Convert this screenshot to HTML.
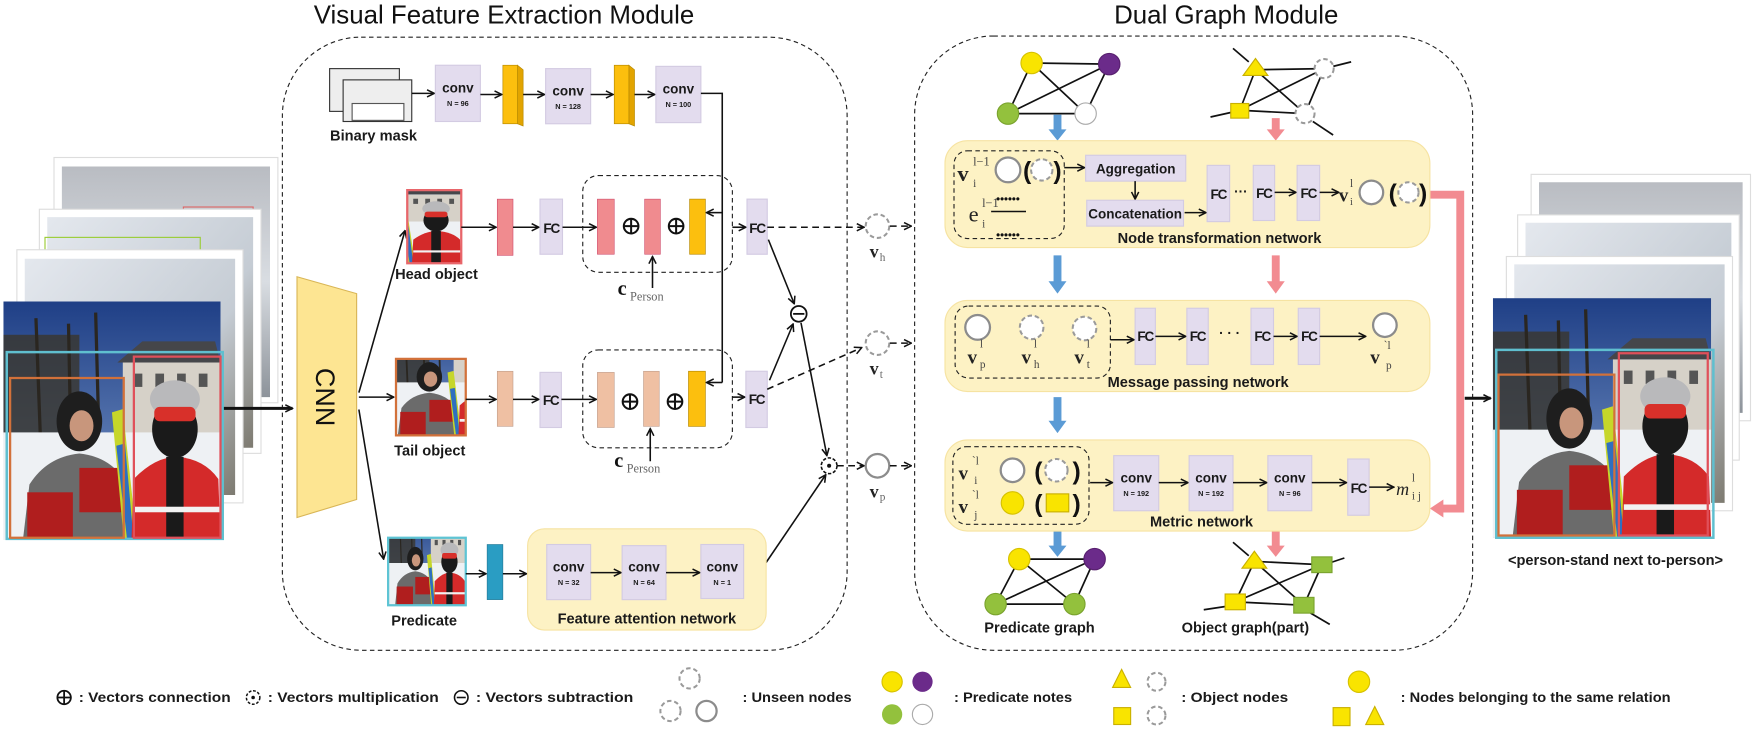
<!DOCTYPE html>
<html><head><meta charset="utf-8"><style>
html,body{margin:0;padding:0;background:#fff;}
svg{display:block;}
text{font-family:"Liberation Sans",sans-serif;}
.b{font-weight:bold;fill:#1a1a1a;}
.m{font-family:"Liberation Serif",serif;}
.lv{fill:#e3dcee;stroke:#d3cbe2;stroke-width:1;}
.ln{stroke:#111;stroke-width:1.4;fill:none;}
.ar{stroke:#111;stroke-width:1.4;fill:none;marker-end:url(#a);}
.da{stroke:#111;stroke-width:1.4;fill:none;stroke-dasharray:6,4;marker-end:url(#a);}
.box{fill:none;stroke:#222;stroke-width:1;stroke-dasharray:4,3;}
.nb{fill:#fdf2c4;stroke:#f6e3a2;stroke-width:1;}
.dc{fill:#fff;stroke:#9a9a9a;stroke-width:1.8;stroke-dasharray:4,2.5;}
.sc{fill:#fff;stroke:#8c8c8c;stroke-width:2;}
.ed{stroke:#111;stroke-width:1.5;}
</style></head><body>
<svg width="1755" height="729" viewBox="0 0 1560 648" preserveAspectRatio="none" xmlns="http://www.w3.org/2000/svg">
<defs>
<marker id="a" viewBox="0 0 10 10" refX="9" refY="5" markerWidth="8" markerHeight="8" orient="auto" markerUnits="userSpaceOnUse"><path d="M1,1 L9,5 L1,9" fill="none" stroke="#111" stroke-width="1.7"/></marker>
<linearGradient id="sky" x1="0" y1="0" x2="0" y2="1"><stop offset="0" stop-color="#1f3f86"/><stop offset="1" stop-color="#7f9dcc"/></linearGradient>
<linearGradient id="blur1" x1="0" y1="0" x2="0" y2="1"><stop offset="0" stop-color="#b9bcc2"/><stop offset="0.5" stop-color="#d9dde2"/><stop offset="1" stop-color="#8d939a"/></linearGradient>
<linearGradient id="blur2" x1="0" y1="0" x2="1" y2="1"><stop offset="0" stop-color="#e4e8ee"/><stop offset="0.6" stop-color="#c5ccd4"/><stop offset="1" stop-color="#7d7a70"/></linearGradient>
<g id="scene">
<rect width="200" height="215" fill="url(#sky)"/>
<rect x="0" y="30" width="70" height="90" fill="#3a362c" opacity="0.8"/>
<path d="M60,20 L62,120 M85,10 L88,120 M30,15 L34,120" stroke="#2a2620" stroke-width="3"/>
<polygon points="105,55 128,36 195,36 200,55" fill="#45464a"/>
<rect x="110" y="55" width="90" height="65" fill="#d6d1c8"/>
<rect x="120" y="65" width="8" height="12" fill="#555"/><rect x="140" y="65" width="8" height="12" fill="#555"/><rect x="160" y="65" width="8" height="12" fill="#555"/><rect x="180" y="65" width="8" height="12" fill="#555"/>
<rect x="0" y="118" width="200" height="97" fill="#eef1f4"/>
<path d="M18,215 L24,165 Q40,140 70,137 Q100,140 114,165 L118,215 Z" fill="#6b6b6b"/>
<rect x="22" y="172" width="42" height="43" fill="#b01e1e"/><rect x="70" y="150" width="40" height="40" fill="#b01e1e"/>
<ellipse cx="70" cy="108" rx="21" ry="27" fill="#1e1e1e"/><ellipse cx="72" cy="112" rx="11" ry="14" fill="#c8967c"/>
<polygon points="100,100 110,97 123,215 111,215" fill="#c6d62a"/><polygon points="104,130 112,128 120,215 114,215" fill="#2f6fc0"/>
<path d="M118,215 L120,160 Q140,140 160,140 Q185,142 198,160 L200,215 Z" fill="#d42a2a"/>
<rect x="150" y="140" width="16" height="75" fill="#1a1a1a"/><rect x="120" y="185" width="80" height="5" fill="#f2f2f2"/>
<ellipse cx="158" cy="115" rx="21" ry="26" fill="#1a1a1a"/><ellipse cx="158" cy="88" rx="23" ry="17" fill="#b9b9bb"/>
<rect x="139" y="95" width="38" height="13" rx="5" fill="#d8302a"/>
</g>
</defs>

<!-- titles -->
<text x="448" y="21" font-size="23" text-anchor="middle" fill="#111">Visual Feature Extraction Module</text>
<text x="1090" y="21" font-size="23" text-anchor="middle" fill="#111">Dual Graph Module</text>

<!-- containers -->
<rect x="251" y="33" width="502" height="545" rx="70" class="box"/>
<rect x="813" y="32" width="496" height="546" rx="70" class="box"/>

<!-- left photo stack -->
<rect x="48" y="140" width="199" height="218" fill="#fff" stroke="#ddd"/>
<rect x="55" y="148" width="185" height="205" fill="url(#blur1)"/>
<rect x="163" y="184" width="62" height="30" fill="none" stroke="#d66" stroke-width="1"/>
<rect x="35" y="186" width="197" height="217" fill="#fff" stroke="#ddd"/>
<rect x="42" y="193" width="183" height="205" fill="url(#blur2)"/>
<rect x="40" y="211" width="138" height="30" fill="none" stroke="#9c3" stroke-width="1"/>
<rect x="15" y="222" width="201" height="225" fill="#fff" stroke="#ddd"/>
<rect x="22" y="230" width="187" height="210" fill="url(#blur2)"/>
<svg x="3" y="268" width="193" height="212" viewBox="0 0 200 215" preserveAspectRatio="none"><use href="#scene"/></svg>
<rect x="6" y="313" width="192" height="166" fill="none" stroke="#5fbfcf" stroke-width="2.2"/>
<rect x="9" y="336" width="101" height="142" fill="none" stroke="#d2713a" stroke-width="2"/>
<rect x="119" y="317" width="77" height="161" fill="none" stroke="#e0505a" stroke-width="2"/>
<line x1="199" y1="363" x2="260" y2="363" stroke="#111" stroke-width="2.6" marker-end="url(#a)"/>

<!-- CNN -->
<polygon points="264,246 317,261 317,444 264,460" fill="#fde592" stroke="#d9b656" stroke-width="1"/>
<text x="0" y="0" font-size="24" fill="#111" transform="translate(281,353) rotate(90)" text-anchor="middle">CNN</text>
<line x1="319" y1="349" x2="360" y2="205" class="ar"/>
<line x1="319" y1="353" x2="350" y2="353" class="ar"/>
<line x1="319" y1="364" x2="341" y2="497" class="ar"/>

<!-- binary mask row -->
<rect x="293" y="61" width="62" height="38" fill="#eee" stroke="#333"/>
<rect x="305" y="71" width="61" height="37" fill="#eee" stroke="#333"/>
<rect x="313" y="92" width="46" height="15" fill="#fff" stroke="#555"/>
<text x="332" y="125" font-size="13" class="b" text-anchor="middle">Binary mask</text>
<line x1="366" y1="83" x2="386" y2="83" class="ar"/>
<rect x="387" y="58" width="40" height="50" class="lv"/>
<text x="407" y="82" font-size="12" class="b" text-anchor="middle">conv</text><text x="407" y="94" font-size="6.5" class="b" text-anchor="middle">N = 96</text>
<line x1="427" y1="84" x2="446" y2="84" class="ar"/>
<polygon points="460,58 465,62 465,112 460,110" fill="#e2a400" stroke="#b88a00" stroke-width="0.6"/>
<rect x="447" y="58" width="13" height="52" fill="#fcbf0e" stroke="#b88a00" stroke-width="0.6"/>
<line x1="465" y1="84" x2="484" y2="84" class="ar"/>
<rect x="485" y="61" width="40" height="49" class="lv"/>
<text x="505" y="85" font-size="12" class="b" text-anchor="middle">conv</text><text x="505" y="97" font-size="6.5" class="b" text-anchor="middle">N = 128</text>
<line x1="525" y1="84" x2="545" y2="84" class="ar"/>
<polygon points="559,58 564,62 564,112 559,110" fill="#e2a400" stroke="#b88a00" stroke-width="0.6"/>
<rect x="546" y="58" width="13" height="52" fill="#fcbf0e" stroke="#b88a00" stroke-width="0.6"/>
<line x1="564" y1="84" x2="582" y2="84" class="ar"/>
<rect x="583" y="59" width="40" height="50" class="lv"/>
<text x="603" y="83" font-size="12" class="b" text-anchor="middle">conv</text><text x="603" y="95" font-size="6.5" class="b" text-anchor="middle">N = 100</text>
<polyline points="623,83 642,83 642,340" class="ln"/>
<line x1="642" y1="189" x2="628" y2="189" class="ar"/>
<line x1="642" y1="340" x2="628" y2="340" class="ar"/>

<!-- head row -->
<svg x="362" y="169" width="48" height="65" viewBox="110 45 90 170" preserveAspectRatio="none"><use href="#scene"/></svg>
<rect x="362" y="169" width="48" height="65" fill="none" stroke="#e8656a" stroke-width="2"/>
<text x="388" y="248" font-size="13" class="b" text-anchor="middle">Head object</text>
<line x1="410" y1="202" x2="441" y2="202" class="ar"/>
<rect x="442" y="177" width="14" height="50" fill="#f08b8f" stroke="#c46" stroke-width="0.5"/>
<line x1="456" y1="202" x2="479" y2="202" class="ar"/>
<rect x="480" y="177" width="20" height="49" class="lv"/><text x="490" y="207" font-size="12" class="b" text-anchor="middle" letter-spacing="-1">FC</text>
<line x1="500" y1="202" x2="530" y2="202" class="ar"/>
<rect x="518" y="156" width="133" height="86" rx="14" class="box"/>
<rect x="531" y="177" width="15" height="49" fill="#f08b8f" stroke="#c46" stroke-width="0.5"/>
<circle cx="561" cy="201" r="6.5" fill="none" stroke="#111" stroke-width="1.8"/><path d="M554.5,201 H567.5 M561,194.5 V207.5" stroke="#111" stroke-width="1.8"/>
<rect x="573" y="177" width="14" height="49" fill="#f08b8f" stroke="#c46" stroke-width="0.5"/>
<circle cx="601" cy="201" r="6.5" fill="none" stroke="#111" stroke-width="1.8"/><path d="M594.5,201 H607.5 M601,194.5 V207.5" stroke="#111" stroke-width="1.8"/>
<rect x="613" y="177" width="14" height="49" fill="#fcbf0e" stroke="#b88a00" stroke-width="0.6"/>
<line x1="580" y1="256" x2="580" y2="228" class="ar"/>
<text x="549" y="262" font-size="18" class="m" font-weight="bold" fill="#111">c</text><text x="560" y="267" font-size="11" class="m" fill="#666">Person</text>
<line x1="651" y1="202" x2="663" y2="202" class="ar"/>
<rect x="664" y="177" width="18" height="49" class="lv"/><text x="673" y="207" font-size="12" class="b" text-anchor="middle" letter-spacing="-1">FC</text>
<line x1="682" y1="202" x2="768" y2="202" class="da"/>
<circle cx="780" cy="201" r="10.5" class="dc"/>
<text x="773" y="229" font-size="16" class="m" font-weight="bold" fill="#222">v</text><text x="782" y="232" font-size="10" class="m" fill="#666">h</text>
<line x1="791" y1="201" x2="810" y2="201" class="da"/>

<!-- tail row -->
<svg x="352" y="319" width="62" height="68" viewBox="15 75 115 140" preserveAspectRatio="none"><use href="#scene"/></svg>
<rect x="352" y="319" width="62" height="68" fill="none" stroke="#d2713a" stroke-width="2"/>
<text x="382" y="405" font-size="13" class="b" text-anchor="middle">Tail object</text>
<line x1="414" y1="355" x2="441" y2="355" class="ar"/>
<rect x="442" y="330" width="14" height="49" fill="#efc0a3" stroke="#b98" stroke-width="0.5"/>
<line x1="456" y1="355" x2="479" y2="355" class="ar"/>
<rect x="480" y="331" width="19" height="49" class="lv"/><text x="489.5" y="360" font-size="12" class="b" text-anchor="middle" letter-spacing="-1">FC</text>
<line x1="499" y1="355" x2="530" y2="355" class="ar"/>
<rect x="518" y="311" width="133" height="87" rx="14" class="box"/>
<rect x="531" y="331" width="15" height="49" fill="#efc0a3" stroke="#b98" stroke-width="0.5"/>
<circle cx="560" cy="357" r="6.5" fill="none" stroke="#111" stroke-width="1.8"/><path d="M553.5,357 H566.5 M560,350.5 V363.5" stroke="#111" stroke-width="1.8"/>
<rect x="572" y="330" width="14" height="49" fill="#efc0a3" stroke="#b98" stroke-width="0.5"/>
<circle cx="600" cy="357" r="6.5" fill="none" stroke="#111" stroke-width="1.8"/><path d="M593.5,357 H606.5 M600,350.5 V363.5" stroke="#111" stroke-width="1.8"/>
<rect x="612" y="330" width="15" height="49" fill="#fcbf0e" stroke="#b88a00" stroke-width="0.6"/>
<line x1="578" y1="410" x2="578" y2="381" class="ar"/>
<text x="546" y="415" font-size="18" class="m" font-weight="bold" fill="#111">c</text><text x="557" y="420" font-size="11" class="m" fill="#666">Person</text>
<line x1="651" y1="353" x2="662" y2="353" class="ar"/>
<rect x="663" y="330" width="19" height="50" class="lv"/><text x="672.5" y="359" font-size="12" class="b" text-anchor="middle" letter-spacing="-1">FC</text>
<line x1="682" y1="346" x2="766" y2="309" class="da"/>
<circle cx="780" cy="305" r="10.5" class="dc"/>
<text x="773" y="333" font-size="16" class="m" font-weight="bold" fill="#222">v</text><text x="782" y="336" font-size="10" class="m" fill="#666">t</text>
<line x1="791" y1="305" x2="810" y2="305" class="da"/>

<!-- subtraction / multiplication -->
<line x1="683" y1="213" x2="706" y2="270" class="ar"/>
<line x1="684" y1="338" x2="705" y2="288" class="ar"/>
<circle cx="710" cy="279" r="7" fill="#fff" stroke="#111" stroke-width="1.6"/><line x1="705" y1="279" x2="715" y2="279" stroke="#111" stroke-width="1.6"/>
<line x1="712" y1="287" x2="735" y2="405" class="ar"/>
<line x1="681" y1="500" x2="734" y2="422" class="ar"/>
<circle cx="737" cy="414" r="7" fill="#fff" stroke="#111" stroke-width="1.4" stroke-dasharray="3,1.5"/><circle cx="737" cy="414" r="1.8" fill="#111"/>
<line x1="744" y1="414" x2="768" y2="414" class="da"/>
<circle cx="780" cy="414" r="10.5" class="sc"/>
<text x="773" y="442" font-size="16" class="m" font-weight="bold" fill="#222">v</text><text x="782" y="445" font-size="10" class="m" fill="#666">p</text>
<line x1="791" y1="414" x2="810" y2="414" class="da"/>

<!-- predicate row -->
<svg x="345" y="478" width="69" height="60" viewBox="0 60 200 155" preserveAspectRatio="none"><use href="#scene"/></svg>
<rect x="345" y="478" width="69" height="60" fill="none" stroke="#5ec4d4" stroke-width="2"/>
<text x="377" y="556" font-size="13" class="b" text-anchor="middle">Predicate</text>
<line x1="414" y1="510" x2="432" y2="510" class="ar"/>
<rect x="433" y="484" width="14" height="49" fill="#2a9dc3" stroke="#1a6f8c" stroke-width="0.5"/>
<line x1="447" y1="510" x2="468" y2="510" class="ar"/>
<rect x="469" y="470" width="212" height="90" rx="15" class="nb"/>
<rect x="486" y="484" width="39" height="49" class="lv"/><text x="505.5" y="508" font-size="12" class="b" text-anchor="middle">conv</text><text x="505.5" y="520" font-size="6.5" class="b" text-anchor="middle">N = 32</text>
<line x1="525" y1="509" x2="552" y2="509" class="ar"/>
<rect x="553" y="485" width="39" height="48" class="lv"/><text x="572.5" y="508" font-size="12" class="b" text-anchor="middle">conv</text><text x="572.5" y="520" font-size="6.5" class="b" text-anchor="middle">N = 64</text>
<line x1="592" y1="509" x2="622" y2="509" class="ar"/>
<rect x="623" y="484" width="38" height="48" class="lv"/><text x="642" y="508" font-size="12" class="b" text-anchor="middle">conv</text><text x="642" y="520" font-size="6.5" class="b" text-anchor="middle">N = 1</text>
<text x="575" y="554" font-size="13" class="b" text-anchor="middle">Feature attention network</text>

<!-- top graphs -->
<g class="ed"><line x1="917" y1="56" x2="986" y2="57"/><line x1="917" y1="56" x2="896" y2="101"/><line x1="917" y1="56" x2="965" y2="101"/><line x1="986" y1="57" x2="896" y2="101"/><line x1="986" y1="57" x2="965" y2="101"/><line x1="896" y1="101" x2="965" y2="101"/></g>
<circle cx="917" cy="56" r="9.5" fill="#f9e400" stroke="#d6c100"/>
<circle cx="986" cy="57" r="9.5" fill="#6b2b8a" stroke="#58206f"/>
<circle cx="896" cy="101" r="9.5" fill="#93c13d" stroke="#7aa32e"/>
<circle cx="965" cy="101" r="9.5" fill="#fff" stroke="#aaa"/>
<g class="ed"><line x1="1116" y1="62" x2="1177" y2="61"/><line x1="1116" y1="62" x2="1102" y2="98"/><line x1="1116" y1="62" x2="1160" y2="101"/><line x1="1102" y1="98" x2="1177" y2="61"/><line x1="1102" y1="98" x2="1160" y2="101"/><line x1="1177" y1="61" x2="1160" y2="101"/><line x1="1096" y1="43" x2="1110" y2="55"/><line x1="1185" y1="59" x2="1201" y2="55"/><line x1="1076" y1="104" x2="1094" y2="100"/><line x1="1167" y1="108" x2="1185" y2="120"/></g>
<polygon points="1116,52 1127,67 1105,67" fill="#f9e400" stroke="#c9b000"/>
<circle cx="1177" cy="61" r="8.5" class="dc"/>
<rect x="1094" y="92" width="16" height="13" fill="#f9e400" stroke="#c9b000"/>
<circle cx="1160" cy="101" r="8.5" class="dc"/>

<!-- colored arrows -->
<g fill="#5b9bd5">
<polygon points="936.5,102 943.5,102 943.5,115 948,115 940,125 932,115 936.5,115"/>
<polygon points="936.5,227 943.5,227 943.5,250 948,250 940,261 932,250 936.5,250"/>
<polygon points="936.5,353 943.5,353 943.5,374 948,374 940,385 932,374 936.5,374"/>
<polygon points="936.5,472 943.5,472 943.5,485 948,485 940,495 932,485 936.5,485"/>
</g>
<g fill="#f28b91">
<polygon points="1130.5,105 1137.5,105 1137.5,115 1142,115 1134,125 1126,115 1130.5,115"/>
<polygon points="1130.5,227 1137.5,227 1137.5,250 1142,250 1134,261 1126,250 1130.5,250"/>
<polygon points="1130.5,472 1137.5,472 1137.5,485 1142,485 1134,495 1126,485 1130.5,485"/>
</g>
<polyline points="1271,173 1298,173 1298,452 1282,452" fill="none" stroke="#f28b91" stroke-width="7"/>
<polygon points="1283,444 1283,460 1271,452" fill="#f28b91"/>

<!-- Node transformation network -->
<rect x="840" y="125" width="431" height="95" rx="20" class="nb"/>
<rect x="848" y="134" width="98" height="78" rx="12" class="box"/>
<text x="851" y="161" font-size="20" class="m" font-weight="bold" fill="#222">v</text><text x="865" y="147" font-size="11" class="m" fill="#444">l−1</text><text x="865" y="166" font-size="10" class="m" fill="#444">i</text>
<circle cx="896" cy="151" r="11" class="sc"/>
<text x="913" y="159" font-size="22" font-weight="bold" fill="#111" text-anchor="middle">(</text><text x="940" y="159" font-size="22" font-weight="bold" fill="#111" text-anchor="middle">)</text>
<circle cx="926" cy="151" r="9.5" class="dc"/>
<text x="861" y="197" font-size="20" class="m" fill="#222">e</text><text x="873" y="184" font-size="11" class="m" fill="#444">l−1</text><text x="873" y="202" font-size="10" class="m" fill="#444">i</text>
<text x="896" y="180" font-size="10" font-weight="bold" text-anchor="middle" fill="#111">••••••</text>
<line x1="881" y1="188" x2="912" y2="188" stroke="#111" stroke-width="1.3"/>
<text x="896" y="212" font-size="10" font-weight="bold" text-anchor="middle" fill="#111">••••••</text>
<line x1="946" y1="149" x2="964" y2="149" class="ar"/>
<rect x="965" y="138" width="89" height="23" class="lv"/><text x="1009.5" y="154" font-size="12" class="b" text-anchor="middle">Aggregation</text>
<line x1="1009" y1="161" x2="1009" y2="177" class="ar"/>
<rect x="966" y="178" width="86" height="23" class="lv"/><text x="1009" y="194" font-size="12" class="b" text-anchor="middle">Concatenation</text>
<line x1="1053" y1="189" x2="1072" y2="189" class="ar"/>
<rect x="1073" y="147" width="20" height="50" class="lv"/><text x="1083" y="177" font-size="12" class="b" text-anchor="middle" letter-spacing="-1">FC</text>
<text x="1103" y="174" font-size="12" class="b" text-anchor="middle">···</text>
<rect x="1114" y="147" width="19" height="49" class="lv"/><text x="1123.5" y="176" font-size="12" class="b" text-anchor="middle" letter-spacing="-1">FC</text>
<line x1="1133" y1="171" x2="1152" y2="171" class="ar"/>
<rect x="1153" y="147" width="20" height="49" class="lv"/><text x="1163" y="176" font-size="12" class="b" text-anchor="middle" letter-spacing="-1">FC</text>
<line x1="1173" y1="171" x2="1190" y2="171" class="ar"/>
<text x="1190" y="179" font-size="17" class="m" font-weight="bold" fill="#222">v</text><text x="1200" y="166" font-size="10" class="m" fill="#444">l</text><text x="1200" y="182" font-size="9" class="m" fill="#444">i</text>
<circle cx="1219" cy="171" r="10.5" class="sc"/>
<text x="1238" y="179" font-size="22" font-weight="bold" fill="#111" text-anchor="middle">(</text><text x="1265" y="179" font-size="22" font-weight="bold" fill="#111" text-anchor="middle">)</text>
<circle cx="1252" cy="171" r="9" class="dc"/>
<text x="1084" y="216" font-size="13" class="b" text-anchor="middle">Node transformation network</text>

<!-- Message passing network -->
<rect x="840" y="267" width="431" height="81" rx="20" class="nb"/>
<rect x="849" y="272" width="138" height="64" rx="12" class="box"/>
<circle cx="869" cy="291" r="11" class="sc"/><circle cx="917" cy="291" r="10.5" class="dc"/><circle cx="964" cy="292" r="10.5" class="dc"/>
<text x="860" y="323" font-size="17" class="m" font-weight="bold" fill="#222">v</text><text x="871" y="309" font-size="10" class="m" fill="#444">l</text><text x="871" y="327" font-size="10" class="m" fill="#444">p</text>
<text x="908" y="323" font-size="17" class="m" font-weight="bold" fill="#222">v</text><text x="919" y="309" font-size="10" class="m" fill="#444">l</text><text x="919" y="327" font-size="10" class="m" fill="#444">h</text>
<text x="955" y="323" font-size="17" class="m" font-weight="bold" fill="#222">v</text><text x="966" y="309" font-size="10" class="m" fill="#444">l</text><text x="966" y="327" font-size="10" class="m" fill="#444">t</text>
<line x1="987" y1="302" x2="1008" y2="302" class="ar"/>
<rect x="1009" y="274" width="18" height="50" class="lv"/><text x="1018" y="303" font-size="12" class="b" text-anchor="middle" letter-spacing="-1">FC</text>
<line x1="1027" y1="299" x2="1054" y2="299" class="ar"/>
<rect x="1055" y="274" width="19" height="50" class="lv"/><text x="1064.5" y="303" font-size="12" class="b" text-anchor="middle" letter-spacing="-1">FC</text>
<text x="1093" y="300" font-size="12" class="b" text-anchor="middle">· · ·</text>
<rect x="1112" y="274" width="20" height="50" class="lv"/><text x="1122" y="303" font-size="12" class="b" text-anchor="middle" letter-spacing="-1">FC</text>
<line x1="1132" y1="299" x2="1153" y2="299" class="ar"/>
<rect x="1154" y="274" width="19" height="50" class="lv"/><text x="1163.5" y="303" font-size="12" class="b" text-anchor="middle" letter-spacing="-1">FC</text>
<line x1="1173" y1="299" x2="1214" y2="299" class="ar"/>
<circle cx="1231" cy="289" r="10.5" class="sc"/>
<text x="1218" y="323" font-size="17" class="m" font-weight="bold" fill="#222">v</text><text x="1230" y="310" font-size="10" class="m" fill="#444">`l</text><text x="1232" y="328" font-size="10" class="m" fill="#444">p</text>
<text x="1065" y="344" font-size="13" class="b" text-anchor="middle">Message passing network</text>

<!-- Metric network -->
<rect x="840" y="391" width="431" height="81" rx="20" class="nb"/>
<rect x="847" y="397" width="121" height="69" rx="12" class="box"/>
<text x="852" y="426" font-size="17" class="m" font-weight="bold" fill="#222">v</text><text x="864" y="413" font-size="10" class="m" fill="#444">`l</text><text x="866" y="430" font-size="10" class="m" fill="#444">i</text>
<circle cx="900" cy="418" r="10.5" class="sc"/>
<text x="923" y="426" font-size="22" font-weight="bold" fill="#111" text-anchor="middle">(</text><text x="957" y="426" font-size="22" font-weight="bold" fill="#111" text-anchor="middle">)</text>
<circle cx="939" cy="418" r="10" class="dc"/>
<text x="852" y="456" font-size="17" class="m" font-weight="bold" fill="#222">v</text><text x="864" y="443" font-size="10" class="m" fill="#444">`l</text><text x="866" y="461" font-size="10" class="m" fill="#444">j</text>
<circle cx="900" cy="447" r="10" fill="#f9e400" stroke="#d6c100"/>
<text x="923" y="455" font-size="22" font-weight="bold" fill="#111" text-anchor="middle">(</text><text x="957" y="455" font-size="22" font-weight="bold" fill="#111" text-anchor="middle">)</text>
<rect x="930" y="439" width="20" height="16" fill="#f9e400" stroke="#c9b000"/>
<line x1="969" y1="429" x2="989" y2="429" class="ar"/>
<rect x="990" y="405" width="40" height="49" class="lv"/><text x="1010" y="429" font-size="12" class="b" text-anchor="middle">conv</text><text x="1010" y="441" font-size="6.5" class="b" text-anchor="middle">N = 192</text>
<line x1="1030" y1="429" x2="1056" y2="429" class="ar"/>
<rect x="1057" y="405" width="39" height="49" class="lv"/><text x="1076.5" y="429" font-size="12" class="b" text-anchor="middle">conv</text><text x="1076.5" y="441" font-size="6.5" class="b" text-anchor="middle">N = 192</text>
<line x1="1096" y1="429" x2="1126" y2="429" class="ar"/>
<rect x="1127" y="405" width="39" height="49" class="lv"/><text x="1146.5" y="429" font-size="12" class="b" text-anchor="middle">conv</text><text x="1146.5" y="441" font-size="6.5" class="b" text-anchor="middle">N = 96</text>
<line x1="1166" y1="429" x2="1197" y2="429" class="ar"/>
<rect x="1198" y="408" width="19" height="50" class="lv"/><text x="1207.5" y="438" font-size="12" class="b" text-anchor="middle" letter-spacing="-1">FC</text>
<line x1="1217" y1="433" x2="1239" y2="433" class="ar"/>
<text x="1241" y="440" font-size="16" class="m" font-style="italic" fill="#222">m</text><text x="1255" y="428" font-size="10" class="m" fill="#444">l</text><text x="1255" y="444" font-size="10" class="m" fill="#444">i j</text>
<text x="1068" y="468" font-size="13" class="b" text-anchor="middle">Metric network</text>

<!-- bottom graphs -->
<g class="ed"><line x1="906" y1="497" x2="973" y2="497"/><line x1="906" y1="497" x2="885" y2="537"/><line x1="906" y1="497" x2="955" y2="537"/><line x1="973" y1="497" x2="885" y2="537"/><line x1="973" y1="497" x2="955" y2="537"/><line x1="885" y1="537" x2="955" y2="537"/></g>
<circle cx="906" cy="497" r="9.5" fill="#f9e400" stroke="#d6c100"/>
<circle cx="973" cy="497" r="9.5" fill="#6b2b8a" stroke="#58206f"/>
<circle cx="885" cy="537" r="9.5" fill="#93c13d" stroke="#7aa32e"/>
<circle cx="955" cy="537" r="9.5" fill="#93c13d" stroke="#7aa32e"/>
<text x="924" y="562" font-size="13" class="b" text-anchor="middle">Predicate graph</text>
<g class="ed"><line x1="1115" y1="499" x2="1175" y2="502"/><line x1="1115" y1="499" x2="1098" y2="535"/><line x1="1115" y1="499" x2="1159" y2="538"/><line x1="1098" y1="535" x2="1175" y2="502"/><line x1="1098" y1="535" x2="1159" y2="538"/><line x1="1175" y1="502" x2="1159" y2="538"/><line x1="1096" y1="482" x2="1110" y2="494"/><line x1="1183" y1="500" x2="1195" y2="496"/><line x1="1070" y1="542" x2="1090" y2="539"/><line x1="1165" y1="545" x2="1182" y2="555"/></g>
<polygon points="1115,490 1126,505 1104,505" fill="#f9e400" stroke="#c9b000"/>
<rect x="1166" y="495" width="18" height="14" fill="#93c13d" stroke="#7aa32e"/>
<rect x="1089" y="528" width="18" height="14" fill="#f9e400" stroke="#c9b000"/>
<rect x="1150" y="531" width="18" height="14" fill="#93c13d" stroke="#7aa32e"/>
<text x="1107" y="562" font-size="13" class="b" text-anchor="middle">Object graph(part)</text>

<!-- right photo stack -->
<line x1="1302" y1="354" x2="1325" y2="354" stroke="#111" stroke-width="2.6" marker-end="url(#a)"/>
<rect x="1361" y="155" width="195" height="219" fill="#fff" stroke="#ddd"/>
<rect x="1368" y="162" width="181" height="205" fill="url(#blur1)"/>
<rect x="1447" y="201" width="60" height="30" fill="none" stroke="#d66"/>
<rect x="1349" y="191" width="197" height="218" fill="#fff" stroke="#ddd"/>
<rect x="1356" y="198" width="183" height="205" fill="url(#blur2)"/>
<rect x="1352" y="240" width="138" height="25" fill="none" stroke="#9c3"/>
<rect x="1339" y="228" width="201" height="226" fill="#fff" stroke="#ddd"/>
<rect x="1346" y="235" width="187" height="212" fill="url(#blur2)"/>
<svg x="1327" y="265" width="194" height="213" viewBox="0 0 200 215" preserveAspectRatio="none"><use href="#scene"/></svg>
<rect x="1330" y="311" width="193" height="167" fill="none" stroke="#5fbfcf" stroke-width="2.2"/>
<rect x="1332" y="333" width="103" height="143" fill="none" stroke="#d2713a" stroke-width="2"/>
<rect x="1439" y="314" width="79" height="162" fill="none" stroke="#e0505a" stroke-width="2"/>
<text x="1436" y="502" font-size="13" class="b" text-anchor="middle">&lt;person-stand next to-person&gt;</text>

<!-- legend -->
<circle cx="57" cy="620" r="6" fill="none" stroke="#111" stroke-width="1.6"/><path d="M51,620 H63 M57,614 V626" stroke="#111" stroke-width="1.6"/>
<text x="70" y="624" font-size="12" class="b" textLength="135" lengthAdjust="spacingAndGlyphs">:  Vectors connection</text>
<circle cx="225" cy="620" r="6" fill="none" stroke="#111" stroke-width="1.3" stroke-dasharray="2.5,1.5"/><circle cx="225" cy="620" r="1.6" fill="#111"/>
<text x="238" y="624" font-size="12" class="b" textLength="152" lengthAdjust="spacingAndGlyphs">:  Vectors multiplication</text>
<circle cx="410" cy="620" r="6" fill="none" stroke="#111" stroke-width="1.4"/><line x1="406" y1="620" x2="414" y2="620" stroke="#111" stroke-width="1.4"/>
<text x="423" y="624" font-size="12" class="b" textLength="140" lengthAdjust="spacingAndGlyphs">:  Vectors subtraction</text>
<circle cx="613" cy="603" r="9" class="dc"/><circle cx="596" cy="632" r="9" class="dc"/><circle cx="628" cy="632" r="9" class="sc"/>
<text x="660" y="624" font-size="12" class="b" textLength="97" lengthAdjust="spacingAndGlyphs">:  Unseen nodes</text>
<circle cx="793" cy="606" r="9" fill="#f9e400" stroke="#d6c100"/><circle cx="820" cy="606" r="9" fill="#6b2b8a"/>
<circle cx="793" cy="635" r="9" fill="#93c13d"/><circle cx="820" cy="635" r="9" fill="#fff" stroke="#aaa"/>
<text x="848" y="624" font-size="12" class="b" textLength="105" lengthAdjust="spacingAndGlyphs">:  Predicate notes</text>
<polygon points="997,595 1005,611 989,611" fill="#f9e400" stroke="#c9b000"/>
<circle cx="1028" cy="606" r="8" class="dc"/>
<rect x="990" y="629" width="15" height="15" fill="#f9e400" stroke="#c9b000"/>
<circle cx="1028" cy="636" r="8" class="dc"/>
<text x="1050" y="624" font-size="12" class="b" textLength="95" lengthAdjust="spacingAndGlyphs">:  Object nodes</text>
<circle cx="1208" cy="606" r="9.5" fill="#f9e400" stroke="#d6c100"/>
<rect x="1185" y="629" width="15" height="16" fill="#f9e400" stroke="#c9b000"/>
<polygon points="1222,628 1230,644 1214,644" fill="#f9e400" stroke="#c9b000"/>
<text x="1245" y="624" font-size="12" class="b" textLength="240" lengthAdjust="spacingAndGlyphs">:  Nodes belonging to the same relation</text>
</svg>
</body></html>
